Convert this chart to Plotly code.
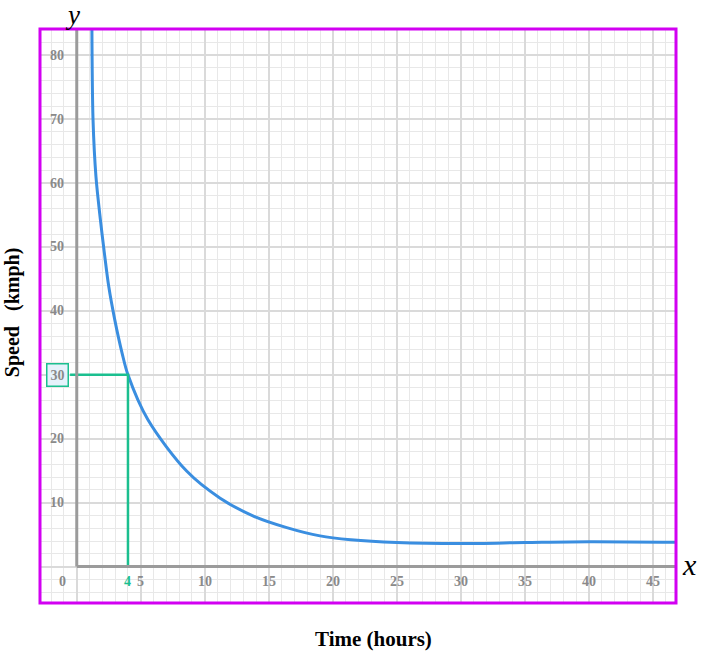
import plotly.graph_objects as go

# Data
time_hours = [1.18, 1.27, 1.5, 1.85, 2.16, 2.5, 2.97, 3.54, 4.0, 5.55, 8.6, 11.2, 13.8, 16.4, 19.0, 21.4, 25, 30, 35, 40, 47]
speed_kmph = [86, 70, 61, 54.2, 49, 43.8, 38.6, 33.4, 30, 23, 14.9, 10.7, 7.9, 6.1, 4.8, 4.2, 3.76, 3.6, 3.76, 3.9, 3.8]

x_tick_vals = [5, 10, 15, 20, 25, 30, 35, 40, 45]
x_tick_text = ["5", "10", "15", "20", "25", "30", "35", "40", "45"]
y_tick_vals = [10, 20, 40, 50, 60, 70, 80]
y_tick_text = ["10", "20", "40", "50", "60", "70", "80"]

read_x = 4
read_y = 30

X_RANGE = [-2.87, 46.8]
Y_RANGE = [-5.7, 84.1]

GREEN = "#1bbf8f"
BLUE = "#3a8ee0"
AXIS_GRAY = "#9b9b9b"
LABEL_GRAY = "#8a8a8a"
MAGENTA = "#d200f2"

fig = go.Figure()

fig.add_trace(go.Scatter(
    x=time_hours, y=speed_kmph, mode="lines",
    line=dict(color=BLUE, width=3, shape="spline", smoothing=0.9),
    hoverinfo="skip", showlegend=False,
))

fig.add_trace(go.Scatter(
    x=[-0.52, read_x, read_x], y=[read_y, read_y, 0], mode="lines",
    line=dict(color=GREEN, width=2.5), hoverinfo="skip", showlegend=False,
))

shapes = [
    dict(type="line", xref="x", yref="y", x0=0, x1=0, y0=0, y1=Y_RANGE[1] + 5,
         line=dict(color=AXIS_GRAY, width=3), layer="above"),
    dict(type="line", xref="x", yref="y", x0=0, x1=X_RANGE[1] + 5, y0=0, y1=0,
         line=dict(color=AXIS_GRAY, width=3), layer="above"),
    dict(type="rect", xref="x domain", yref="y domain", x0=0, x1=1, y0=0, y1=1,
         line=dict(color=MAGENTA, width=3), layer="above"),
]

tick_font = dict(family="Liberation Serif", size=14, color=LABEL_GRAY)
annotations = []
for v, t in zip(x_tick_vals, x_tick_text):
    annotations.append(dict(x=v, y=-2.4, xref="x", yref="y", text=f"<b>{t}</b>",
                            showarrow=False, font=tick_font, xanchor="center", yanchor="middle"))
annotations.append(dict(x=-1.15, y=-2.4, xref="x", yref="y", text="<b>0</b>",
                        showarrow=False, font=tick_font, xanchor="center", yanchor="middle"))
annotations.append(dict(x=read_x, y=-2.4, xref="x", yref="y", text=f"<b>{read_x}</b>",
                        showarrow=False, font=dict(family="Liberation Serif", size=14, color=GREEN),
                        xanchor="center", yanchor="middle"))
for v, t in zip(y_tick_vals, y_tick_text):
    annotations.append(dict(x=-0.85, y=v, xref="x", yref="y", text=f"<b>{t}</b>",
                            showarrow=False, font=tick_font, xanchor="right", yanchor="middle"))
annotations.append(dict(x=-1.5, y=read_y, xref="x", yref="y", text=f"<b>{read_y}</b>",
                        showarrow=False, font=tick_font, xanchor="center", yanchor="middle",
                        bgcolor="#e6f2fb", bordercolor=GREEN, borderwidth=1.5, borderpad=3))
annotations.append(dict(x=0.524, y=-0.062, xref="paper", yref="paper", text="<b>Time (hours)</b>",
                        showarrow=False, font=dict(family="Liberation Serif", size=21, color="black"),
                        xanchor="center", yanchor="middle"))
annotations.append(dict(x=-0.044, y=0.505, xref="paper", yref="paper",
                        text="<b>Speed&nbsp;&nbsp; (kmph)</b>",
                        showarrow=False, textangle=-90,
                        font=dict(family="Liberation Serif", size=20, color="black"),
                        xanchor="center", yanchor="middle"))
annotations.append(dict(x=-0.3, y=1.024, xref="x", yref="paper", text="<i>y</i>",
                        showarrow=False, font=dict(family="Liberation Serif", size=27, color="black"),
                        xanchor="center", yanchor="middle"))
annotations.append(dict(x=1.022, y=0.3, xref="paper", yref="y", text="<i>x</i>",
                        showarrow=False, font=dict(family="Liberation Serif", size=30, color="black"),
                        xanchor="center", yanchor="middle"))

fig.update_layout(
    width=704, height=651,
    margin=dict(l=40, r=28, t=29, b=48),
    paper_bgcolor="white", plot_bgcolor="white",
    shapes=shapes, annotations=annotations,
    xaxis=dict(range=X_RANGE, showticklabels=False, zeroline=False, showline=False,
               tick0=0, dtick=5, showgrid=True, gridcolor="#dadada", gridwidth=2,
               minor=dict(tick0=0, dtick=1, showgrid=True, gridcolor="#e8e8e8", gridwidth=1),
               fixedrange=True),
    yaxis=dict(range=Y_RANGE, showticklabels=False, zeroline=False, showline=False,
               tick0=0, dtick=10, showgrid=True, gridcolor="#dadada", gridwidth=2,
               minor=dict(tick0=0, dtick=2, showgrid=True, gridcolor="#e8e8e8", gridwidth=1),
               fixedrange=True),
)

fig.write_html("out.html", config={"displayModeBar": False},
               post_script="document.body.style.margin='0';document.body.style.overflow='hidden';")
